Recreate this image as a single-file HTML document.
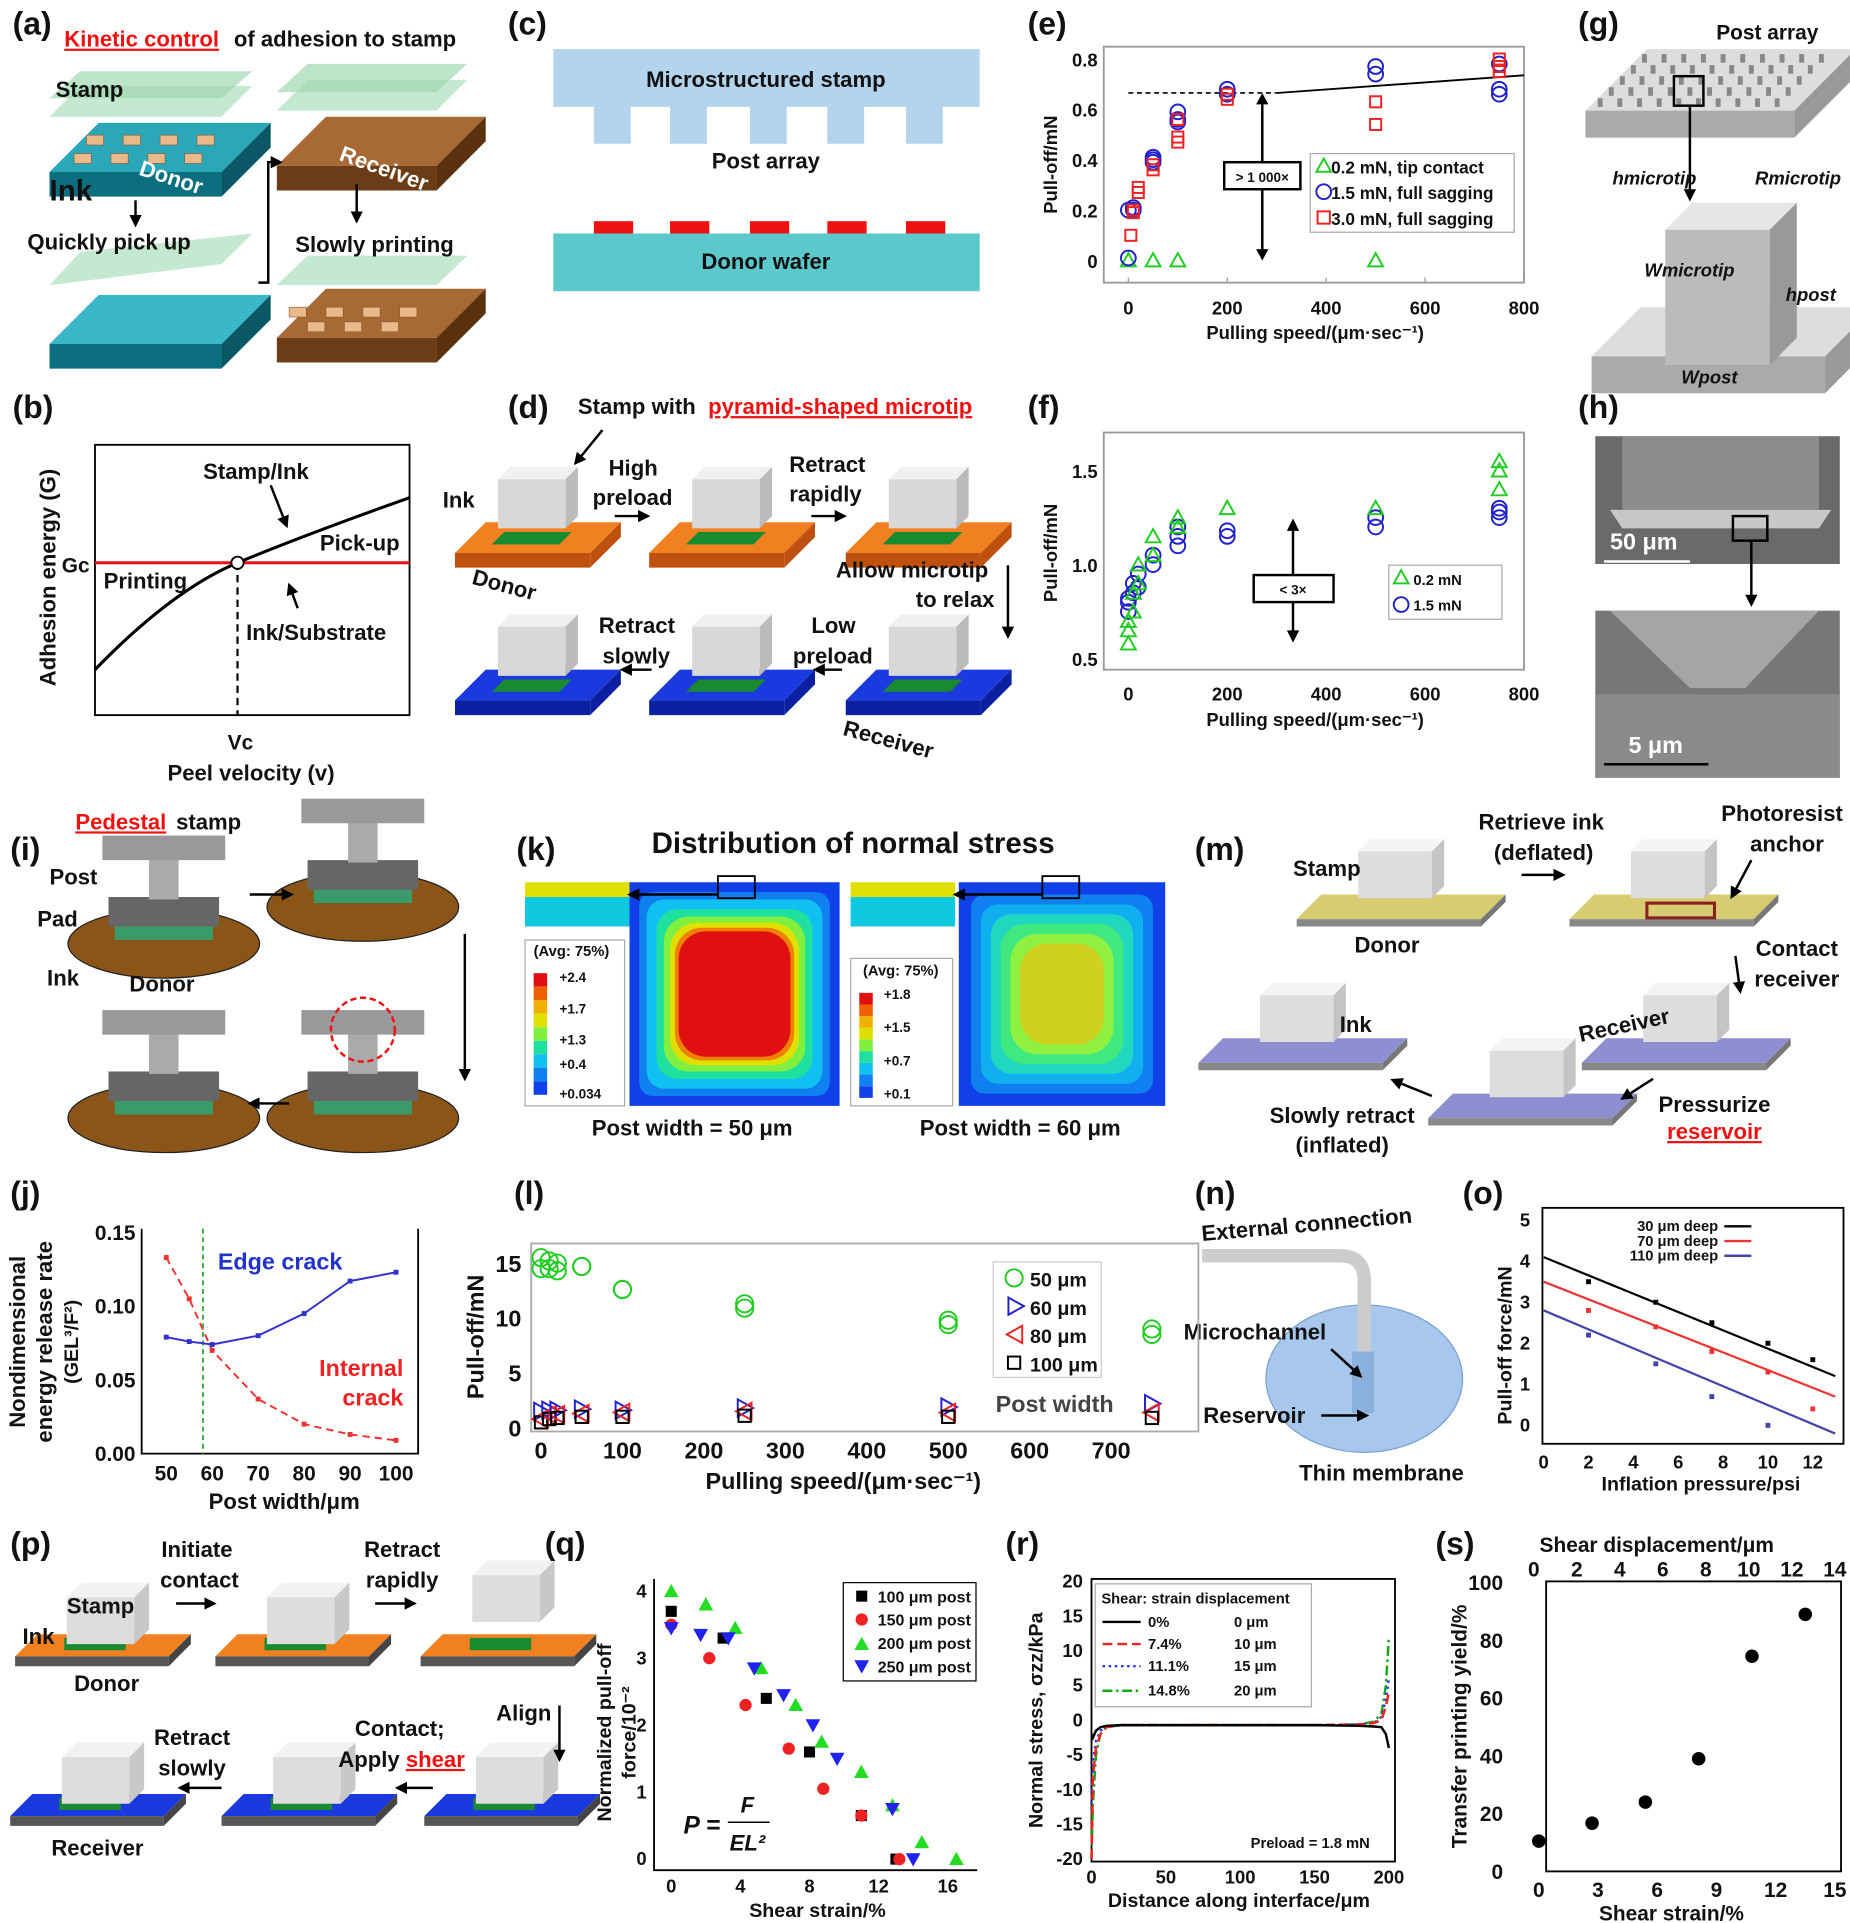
<!DOCTYPE html>
<html><head><meta charset="utf-8">
<style>
html,body{margin:0;padding:0;background:#fff}
svg{display:block}
text{font-family:"Liberation Sans",Arial,sans-serif;font-weight:bold}
</style></head>
<body>
<svg id="fig" xmlns="http://www.w3.org/2000/svg" width="1850" height="1923" viewBox="0 0 1505 1565" fill="#111">
<defs><marker id="ah" viewBox="0 0 10 10" refX="8" refY="5" markerWidth="5" markerHeight="5" orient="auto"><path d="M0,0 L10,5 L0,10 z" fill="#000"/></marker></defs>
<rect width="1505" height="1565" fill="#fff"/>
<g id="illus"></g>
<g id="charts"></g>
<g id="labels" font-size="26">
<text x="10" y="28">(a)</text>
<text x="413" y="28">(c)</text>
<text x="836" y="28">(e)</text>
<text x="1284" y="28">(g)</text>
<text x="10" y="340">(b)</text>
<text x="413" y="340">(d)</text>
<text x="836" y="340">(f)</text>
<text x="1284" y="340">(h)</text>
<text x="8" y="700">(i)</text>
<text x="420" y="700">(k)</text>
<text x="972" y="700">(m)</text>
<text x="8" y="980">(j)</text>
<text x="418" y="980">(l)</text>
<text x="972" y="980">(n)</text>
<text x="1190" y="980">(o)</text>
<text x="8" y="1265">(p)</text>
<text x="443" y="1265">(q)</text>
<text x="818" y="1265">(r)</text>
<text x="1168" y="1265">(s)</text>
</g>
</svg>
<script>
// ===== chart data =====
const eSpeedsBlue=[0,0,10,10,50,50,50,100,100,100,200,200,500,500,750,750,750];
const ePullBlue=[0.01,0.2,0.21,0.2,0.41,0.4,0.39,0.59,0.56,0.55,0.68,0.66,0.77,0.74,0.78,0.68,0.66];
const eSpeedsRed=[5,10,10,20,20,50,50,100,100,100,200,200,500,500,750,750,750];
const ePullRed=[0.1,0.2,0.19,0.29,0.27,0.38,0.36,0.56,0.49,0.47,0.66,0.64,0.63,0.54,0.8,0.77,0.75];
const eSpeedsGreen=[0,50,100,500];
const ePullGreen=[0,0,0,0];
const eXTicks=[0,200,400,600,800];
const eYTicks=[0,0.2,0.4,0.6,0.8];

const fSpeedsBlue=[0,0,0,10,10,20,20,50,50,100,100,100,200,200,500,500,750,750,750];
const fPullBlue=[0.75,0.8,0.82,0.85,0.9,0.88,0.95,1.0,1.05,1.1,1.15,1.2,1.15,1.18,1.2,1.25,1.25,1.3,1.28];
const fSpeedsGreen=[0,0,0,10,10,20,20,50,50,100,100,200,500,750,750,750];
const fPullGreen=[0.58,0.65,0.7,0.75,0.85,0.9,1.0,1.05,1.15,1.2,1.25,1.3,1.3,1.4,1.5,1.55];
const fXTicks=[0,200,400,600,800];
const fYTicks=[0.5,1.0,1.5];

const jWidths=[50,55,60,70,80,90,100];
const jEdge=[0.079,0.076,0.074,0.08,0.095,0.117,0.123];
const jInternal=[0.133,0.105,0.07,0.037,0.02,0.013,0.009];
const jXTicks=[50,60,70,80,90,100];
const jYTicks=[0,0.05,0.1,0.15];

const lSpeeds=[0,10,20,50,100,250,500,750];
const lGreen1=[15.5,15.2,15,14.7,12.6,11.3,9.8,9];
const lGreen2=[14.5,14.5,14.3,14.7,12.6,10.9,9.4,8.5];
const l60=[1.5,1.6,1.6,1.7,1.6,1.8,1.9,2.2];
const l80=[0.8,1.2,1.2,1.3,1.4,1.5,1.4,1.4];
const l100=[0.5,0.8,0.9,1.0,1.0,1.1,1.0,0.9];
const lXTicks=[0,100,200,300,400,500,600,700];
const lYTicks=[0,5,10,15];

const oPress=[2,5,7.5,10,12];
const o30=[3.5,3.0,2.5,2.0,1.6];
const o70=[2.8,2.4,1.8,1.3,0.4];
const o110=[2.2,1.5,0.7,0.0,null];
const oFit30=[4.1,1.2];
const oFit70=[3.5,0.7];
const oFit110=[2.8,-0.2];
const oFitX=[0,13];
const oXTicks=[0,2,4,6,8,10,12];
const oYTicks=[0,1,2,3,4,5];

const q100x=[0,3,5.5,8,11,13];
const q100y=[3.7,3.3,2.4,1.6,0.65,0];
const q150x=[0,2.2,4.3,6.8,8.8,11,13.2];
const q150y=[3.5,3.0,2.3,1.65,1.05,0.65,0];
const q200x=[0,2,3.7,5.2,7.2,8.7,11,12.8,14.5,16.5];
const q200y=[4.0,3.8,3.45,2.85,2.3,1.75,1.3,0.8,0.25,0];
const q250x=[0,1.7,3.3,4.8,6.5,8.2,9.6,12.8,14];
const q250y=[3.45,3.35,3.3,2.85,2.45,2.0,1.5,0.75,0];
const qXTicks=[0,4,8,12,16];
const qYTicks=[0,1,2,3,4];

const rDist=[0,1,3,6,10,20,50,100,150,180,190,195,198,200];
const rS0=[-2,-2.5,-1.5,-1,-0.8,-0.7,-0.7,-0.7,-0.7,-0.8,-0.9,-1,-2,-4];
const rS74=[-20,-8,-4,-2,-1,-0.7,-0.7,-0.7,-0.7,-0.6,-0.4,0,2,4];
const rS111=[-12,-6,-3,-1.5,-1,-0.7,-0.7,-0.7,-0.7,-0.6,-0.4,0.5,3,6];
const rS148=[-20,-12,-5,-2,-1,-0.7,-0.7,-0.7,-0.7,-0.6,-0.2,1,5,12];
const rXTicks=[0,50,100,150,200];
const rYTicks=[-20,-15,-10,-5,0,5,10,15,20];

const sStrain=[0,2.7,5.4,8.1,10.8,13.5];
const sYield=[10.5,16.7,24,39,74.5,89];
const sXTicks=[0,3,6,9,12,15];
const sTopTicks=[0,2,4,6,8,10,12,14];
const sYTicks=[0,20,40,60,80,100];

// ===== helpers =====
const NS='http://www.w3.org/2000/svg';
function mk(tag,at,parent){const e=document.createElementNS(NS,tag);for(const k in at)e.setAttribute(k,at[k]);parent.appendChild(e);return e;}
function tx(s,x,y,sz,parent,extra){const e=mk('text',Object.assign({x:x,y:y,'font-size':sz},extra||{}),parent);e.textContent=s;return e;}
const C=document.getElementById('charts');
const I=document.getElementById('illus');
function lin(d0,d1,p0,p1){return v=>p0+(v-d0)*(p1-p0)/(d1-d0);}
function marker(kind,x,y,col,r,parent,name){
  let e;
  if(kind==='o')e=mk('circle',{cx:x,cy:y,r:r,fill:'none',stroke:col,'stroke-width':1.6},parent);
  else if(kind==='O')e=mk('circle',{cx:x,cy:y,r:r,fill:col},parent);
  else if(kind==='s')e=mk('rect',{x:x-r,y:y-r,width:2*r,height:2*r,fill:'none',stroke:col,'stroke-width':1.6},parent);
  else if(kind==='S')e=mk('rect',{x:x-r,y:y-r,width:2*r,height:2*r,fill:col},parent);
  else if(kind==='t')e=mk('polygon',{points:`${x},${y-r} ${x-r},${y+r*0.8} ${x+r},${y+r*0.8}`,fill:'none',stroke:col,'stroke-width':1.6},parent);
  else if(kind==='T')e=mk('polygon',{points:`${x},${y-r} ${x-r},${y+r*0.8} ${x+r},${y+r*0.8}`,fill:col},parent);
  else if(kind==='V')e=mk('polygon',{points:`${x},${y+r} ${x-r},${y-r*0.8} ${x+r},${y-r*0.8}`,fill:col},parent);
  else if(kind==='r')e=mk('polygon',{points:`${x+r},${y} ${x-r*0.8},${y-r} ${x-r*0.8},${y+r}`,fill:'none',stroke:col,'stroke-width':1.6},parent);
  else if(kind==='l')e=mk('polygon',{points:`${x-r},${y} ${x+r*0.8},${y-r} ${x+r*0.8},${y+r}`,fill:'none',stroke:col,'stroke-width':1.6},parent);
  
  
  return e;
}
function group(name,parent){const g=mk('g',{},parent||C);return g;}
function frame(g,x0,y0,x1,y1,col){mk('rect',{x:x0,y:y0,width:x1-x0,height:y1-y0,fill:'none',stroke:col||'#999','stroke-width':1.5},g);}
function polyl(g,xs,ys,X,Y,col,w,dash,name){
  const pts=[];xs.forEach((v,i)=>{if(ys[i]!==null)pts.push(X(v)+','+Y(ys[i]));});
  const p=mk('polyline',{points:pts.join(' '),fill:'none',stroke:col,'stroke-width':w,'stroke-dasharray':dash||'none'},g);
  
  
  return p;
}
function arrow(g,pts){const a=mk('polyline',{points:pts,fill:'none',stroke:'#000','stroke-width':2,'marker-end':'url(#ah)'},g);
  
  }

// ===== chart e =====
(function(){
 const g=group('chart-e');
 const X=lin(0,800,918,1240),Y=lin(0,0.8,212,48);
 frame(g,898,38,1240,230);
 eXTicks.forEach(v=>{tx(v,X(v),256,15,g,{'text-anchor':'middle'});mk('line',{x1:X(v),x2:X(v),y1:230,y2:226,stroke:'#999'},g);});
 eYTicks.forEach(v=>{tx(v,893,Y(v)+6,15,g,{'text-anchor':'end'});});
 tx('Pulling speed/(μm·sec⁻¹)',1070,276,15,g,{'text-anchor':'middle'});
 tx('Pull-off/mN',860,134,15,g,{'text-anchor':'middle',transform:'rotate(-90 860 134)'});
 mk('line',{x1:X(0),x2:X(300),y1:Y(0.665),y2:Y(0.665),stroke:'#000','stroke-dasharray':'4 3','stroke-width':1.3},g);
 mk('line',{x1:X(300),x2:X(800),y1:Y(0.665),y2:Y(0.735),stroke:'#000','stroke-width':1.5},g);
 mk('line',{x1:1027,x2:1027,y1:Y(0.655),y2:Y(0.02),stroke:'#000','stroke-width':2},g);
 mk('polygon',{points:`1027,${Y(0.665)} 1022,${Y(0.62)} 1032,${Y(0.62)}`,fill:'#000'},g);
 mk('polygon',{points:`1027,${Y(0)} 1022,${Y(0.045)} 1032,${Y(0.045)}`,fill:'#000'},g);
 mk('rect',{x:996,y:132,width:62,height:22,fill:'#fff',stroke:'#000','stroke-width':2},g);
 tx('> 1 000×',1027,148,11,g,{'text-anchor':'middle'});
 eSpeedsGreen.forEach((v,i)=>marker('t',X(v),Y(ePullGreen[i]),'#2c2',6,g,'e-point-green'));
 eSpeedsBlue.forEach((v,i)=>marker('o',X(v),Y(ePullBlue[i]),'#22c',6,g,'e-point-blue'));
 eSpeedsRed.forEach((v,i)=>marker('s',X(v),Y(ePullRed[i]),'#e22',4.5,g,'e-point-red'));
 const lg=group('e-legend',g);
 mk('rect',{x:1066,y:125,width:166,height:64,fill:'#fff',stroke:'#aaa'},lg);
 marker('t',1077,135,'#2c2',6,lg,'legend-green');tx('0.2 mN, tip contact',1083,141,14,lg);
 marker('o',1077,156,'#22c',6,lg,'legend-blue');tx('1.5 mN, full sagging',1083,162,14,lg);
 marker('s',1077,177,'#e22',5,lg,'legend-red');tx('3.0 mN, full sagging',1083,183,14,lg);
})();

// ===== chart f =====
(function(){
 const g=group('chart-f');
 const X=lin(0,800,918,1240),Y=lin(0.5,1.5,536,383);
 frame(g,898,352,1240,545);
 fXTicks.forEach(v=>tx(v,X(v),570,15,g,{'text-anchor':'middle'}));
 fYTicks.forEach(v=>tx(v.toFixed(1),893,Y(v)+6,15,g,{'text-anchor':'end'}));
 tx('Pulling speed/(μm·sec⁻¹)',1070,591,15,g,{'text-anchor':'middle'});
 tx('Pull-off/mN',860,450,15,g,{'text-anchor':'middle',transform:'rotate(-90 860 450)'});
 mk('line',{x1:1052,x2:1052,y1:430,y2:515,stroke:'#000','stroke-width':2},g);
 mk('polygon',{points:'1052,422 1047,432 1057,432',fill:'#000'},g);
 mk('polygon',{points:'1052,523 1047,513 1057,513',fill:'#000'},g);
 mk('rect',{x:1020,y:468,width:65,height:22,fill:'#fff',stroke:'#000','stroke-width':2},g);
 tx('< 3×',1052,484,11,g,{'text-anchor':'middle'});
 fSpeedsBlue.forEach((v,i)=>marker('o',X(v),Y(fPullBlue[i]),'#22c',6,g,'f-point-blue'));
 fSpeedsGreen.forEach((v,i)=>marker('t',X(v),Y(fPullGreen[i]),'#2c2',6,g,'f-point-green'));
 const lg=group('f-legend',g);
 mk('rect',{x:1130,y:460,width:92,height:44,fill:'#fff',stroke:'#aaa'},lg);
 marker('t',1140,470,'#2c2',6,lg,'legend-green');tx('0.2 mN',1150,476,12,lg);
 marker('o',1140,492,'#22c',6,lg,'legend-blue');tx('1.5 mN',1150,497,12,lg);
})();

// ===== chart j =====
(function(){
 const g=group('chart-j');
 const X=lin(50,100,135,322),Y=lin(0,0.15,1183,1003);
 mk('path',{d:'M115,1000 V1183 H340 V1000',fill:'none',stroke:'#000','stroke-width':1.5},g);
 jXTicks.forEach(v=>tx(v,X(v),1205,17,g,{'text-anchor':'middle'}));
 jYTicks.forEach(v=>tx(v.toFixed(2),110,Y(v)+6,17,g,{'text-anchor':'end'}));
 tx('Post width/μm',231,1228,18,g,{'text-anchor':'middle'});
 tx('Nondimensional',20,1092,18,g,{'text-anchor':'middle',transform:'rotate(-90 20 1092)'});
 tx('energy release rate',42,1092,18,g,{'text-anchor':'middle',transform:'rotate(-90 42 1092)'});
 tx('(GEL³/F²)',63,1092,16,g,{'text-anchor':'middle',transform:'rotate(-90 63 1092)'});
 mk('line',{x1:X(58),x2:X(58),y1:1000,y2:1183,stroke:'#3a3','stroke-dasharray':'4 3','stroke-width':1.5},g);
 polyl(g,jWidths,jEdge,X,Y,'#33c',1.6,'none','j-edge-crack-line');
 polyl(g,jWidths,jInternal,X,Y,'#e33',1.6,'6 4','j-internal-crack-line');
 jWidths.forEach((v,i)=>{marker('S',X(v),Y(jEdge[i]),'#33c',2,g,'j-edge-point');marker('S',X(v),Y(jInternal[i]),'#e33',2,g,'j-internal-point');});
 tx('Edge crack',177,1033,19,g,{fill:'#23c'});
 tx('Internal',328,1120,19,g,{fill:'#e22','text-anchor':'end'});
 tx('crack',328,1144,19,g,{fill:'#e22','text-anchor':'end'});
})();

// ===== chart l =====
(function(){
 const g=group('chart-l');
 const X=lin(0,700,440,904),Y=lin(0,15,1162,1028);
 frame(g,432,1012,975,1165,'#aaa');
 lXTicks.forEach(v=>tx(v,X(v),1187,19,g,{'text-anchor':'middle'}));
 lYTicks.forEach(v=>tx(v,424,Y(v)+7,19,g,{'text-anchor':'end'}));
 tx('Pulling speed/(μm·sec⁻¹)',686,1212,19,g,{'text-anchor':'middle'});
 tx('Pull-off/mN',393,1088,19,g,{'text-anchor':'middle',transform:'rotate(-90 393 1088)'});
 lSpeeds.forEach((v,i)=>{
  marker('o',X(v),Y(lGreen1[i]),'#2c2',7,g,'l-point-50');
  marker('o',X(v),Y(lGreen2[i]),'#2c2',7,g,'l-point-50');
  marker('r',X(v),Y(l60[i]),'#22c',7,g,'l-point-60');
  marker('l',X(v),Y(l80[i]),'#e22',7,g,'l-point-80');
  marker('s',X(v),Y(l100[i]),'#000',5,g,'l-point-100');
 });
 const lg=group('l-legend',g);
 mk('rect',{x:808,y:1027,width:88,height:94,fill:'#fff',stroke:'#ccc'},lg);
 marker('o',825,1040,'#2c2',7,lg,'legend-50');tx('50 μm',838,1047,16,lg);
 marker('r',826,1063,'#22c',7,lg,'legend-60');tx('60 μm',838,1070,16,lg);
 marker('l',826,1086,'#e22',7,lg,'legend-80');tx('80 μm',838,1093,16,lg);
 marker('s',825,1109,'#000',5,lg,'legend-100');tx('100 μm',838,1116,16,lg);
 tx('Post width',858,1149,19,g,{'text-anchor':'middle',fill:'#444'});
})();

// ===== chart o =====
(function(){
 const g=group('chart-o');
 const X=lin(0,12,1256,1475),Y=lin(0,5,1160,993);
 frame(g,1255,983,1500,1175,'#000');
 oXTicks.forEach(v=>tx(v,X(v),1195,15,g,{'text-anchor':'middle'}));
 oYTicks.forEach(v=>tx(v,1245,Y(v)+5,15,g,{'text-anchor':'end'}));
 tx('Inflation pressure/psi',1384,1213,16,g,{'text-anchor':'middle'});
 tx('Pull-off force/mN',1230,1095,16,g,{'text-anchor':'middle',transform:'rotate(-90 1230 1095)'});
 polyl(g,oFitX,oFit30,X,Y,'#000',1.8,'none','o-fit-30');
 polyl(g,oFitX,oFit70,X,Y,'#e33',1.8,'none','o-fit-70');
 polyl(g,oFitX,oFit110,X,Y,'#44a',1.8,'none','o-fit-110');
 oPress.forEach((v,i)=>{
  marker('S',X(v),Y(o30[i]),'#000',2,g,'o-point-30');
  marker('S',X(v),Y(o70[i]),'#e33',2,g,'o-point-70');
  if(o110[i]!==null)marker('S',X(v),Y(o110[i]),'#44a',2,g,'o-point-110');
 });
 const lg=group('o-legend',g);
 [['30 μm deep','#000',998],['70 μm deep','#e33',1010],['110 μm deep','#44a',1022]].forEach(a=>{tx(a[0],1398,a[2]+4,12,lg,{'text-anchor':'end'});mk('line',{x1:1403,x2:1425,y1:a[2],y2:a[2],stroke:a[1],'stroke-width':2},lg);});
})();

// ===== chart q =====
(function(){
 const g=group('chart-q');
 const X=lin(0,16,546,771),Y=lin(0,4,1513,1295);
 mk('path',{d:'M532,1285 V1522 H795',fill:'none',stroke:'#000','stroke-width':1.5},g);
 qXTicks.forEach(v=>tx(v,X(v),1540,15,g,{'text-anchor':'middle'}));
 qYTicks.forEach(v=>tx(v,526,Y(v)+5,15,g,{'text-anchor':'end'}));
 tx('Shear strain/%',665,1560,16,g,{'text-anchor':'middle'});
 tx('Normalized pull-off',497,1410,16,g,{'text-anchor':'middle',transform:'rotate(-90 497 1410)'});
 tx('force/10⁻²',517,1410,16,g,{'text-anchor':'middle',transform:'rotate(-90 517 1410)'});
 q100x.forEach((v,i)=>marker('S',X(v),Y(q100y[i]),'#000',4.5,g,'q-point-100'));
 q150x.forEach((v,i)=>marker('O',X(v),Y(q150y[i]),'#e22',5,g,'q-point-150'));
 q200x.forEach((v,i)=>marker('T',X(v),Y(q200y[i]),'#2d2',6,g,'q-point-200'));
 q250x.forEach((v,i)=>marker('V',X(v),Y(q250y[i]),'#22e',6,g,'q-point-250'));
 const lg=group('q-legend',g);
 mk('rect',{x:686,y:1288,width:108,height:80,fill:'#fff',stroke:'#000'},lg);
 marker('S',701,1299,'#000',4.5,lg,'legend-100');tx('100 μm post',714,1304,13,lg);
 marker('O',701,1318,'#e22',5,lg,'legend-150');tx('150 μm post',714,1323,13,lg);
 marker('T',701,1338,'#2d2',6,lg,'legend-200');tx('200 μm post',714,1342,13,lg);
 marker('V',701,1356,'#22e',6,lg,'legend-250');tx('250 μm post',714,1361,13,lg);
 tx('P =',556,1492,20,g,{'font-style':'italic'});
 tx('F',608,1475,18,g,{'font-style':'italic','text-anchor':'middle'});
 mk('line',{x1:592,x2:626,y1:1483,y2:1483,stroke:'#000','stroke-width':1.3},g);
 tx('EL²',608,1506,18,g,{'font-style':'italic','text-anchor':'middle'});
})();

// ===== chart r =====
(function(){
 const g=group('chart-r');
 const X=lin(0,200,888,1130),Y=lin(-20,20,1513,1287);
 frame(g,888,1285,1135,1515,'#000');
 rXTicks.forEach(v=>tx(v,X(v),1533,15,g,{'text-anchor':'middle'}));
 rYTicks.forEach(v=>tx(v,881,Y(v)+5,15,g,{'text-anchor':'end'}));
 tx('Distance along interface/μm',1008,1552,16,g,{'text-anchor':'middle'});
 tx('Normal stress, σzz/kPa',848,1400,16,g,{'text-anchor':'middle',transform:'rotate(-90 848 1400)'});
 polyl(g,rDist,rS148,X,Y,'#1a1',2,'8 3 2 3','r-line-14.8');
 polyl(g,rDist,rS111,X,Y,'#33e',2,'2 3','r-line-11.1');
 polyl(g,rDist,rS74,X,Y,'#e22',2,'8 4','r-line-7.4');
 polyl(g,rDist,rS0,X,Y,'#000',2,'none','r-line-0');
 const lg=group('r-legend',g);
 mk('rect',{x:891,y:1289,width:176,height:100,fill:'#fff',stroke:'#aaa'},lg);
 tx('Shear: strain  displacement',896,1305,12,lg);
 [['0%','0 μm','#000','none',1324],['7.4%','10 μm','#e22','8 4',1342],['11.1%','15 μm','#33e','2 3',1360],['14.8%','20 μm','#1a1','8 3 2 3',1380]].forEach(a=>{
  mk('line',{x1:897,x2:928,y1:a[4]-4,y2:a[4]-4,stroke:a[2],'stroke-width':2,'stroke-dasharray':a[3]},lg);
  tx(a[0],934,a[4],12,lg);tx(a[1],1004,a[4],12,lg);
 });
 tx('Preload = 1.8 mN',1066,1504,12,g,{'text-anchor':'middle'});
})();

// ===== chart s =====
(function(){
 const g=group('chart-s');
 const X=lin(0,15,1252,1493),Xt=lin(0,14,1248,1493),Y=lin(0,100,1523,1288);
 frame(g,1258,1287,1498,1523,'#000');
 sXTicks.forEach(v=>tx(v,X(v),1544,17,g,{'text-anchor':'middle'}));
 sTopTicks.forEach(v=>tx(v,Xt(v),1283,17,g,{'text-anchor':'middle'}));
 sYTicks.forEach(v=>tx(v,1223,Y(v)+6,17,g,{'text-anchor':'end'}));
 tx('Shear strain/%',1360,1563,17,g,{'text-anchor':'middle'});
 tx('Shear displacement/μm',1348,1263,17,g,{'text-anchor':'middle'});
 tx('Transfer printing yield/%',1193,1405,17,g,{'text-anchor':'middle',transform:'rotate(-90 1193 1405)'});
 sStrain.forEach((v,i)=>marker('O',X(v),Y(sYield[i]),'#000',5.5,g,'s-point'));
})();

// ===== illustrations =====
function slab(x,y,w,d,h,top,front,side,parent,name){
 const g=group(name,parent);
 mk('polygon',{points:`${x},${y+d} ${x+w},${y+d} ${x+w+d},${y} ${x+d},${y}`,fill:top},g);
 mk('polygon',{points:`${x},${y+d} ${x+w},${y+d} ${x+w},${y+d+h} ${x},${y+d+h}`,fill:front},g);
 mk('polygon',{points:`${x+w},${y+d} ${x+w+d},${y} ${x+w+d},${y+h} ${x+w},${y+d+h}`,fill:side},g);
 return g;
}
function cube(x,y,w,d,h,parent,name,col){col=col||['#eee','#ccc','#aaa'];return slab(x,y,w,d,h,col[0],col[1],col[2],parent,name);}
function T(s,x,y,sz,extra,parent){return tx(s,x,y,sz,parent||I,extra);}

// (a)
(function(){
 const g=group('panel-a',I);
 slab(40,100,140,40,20,'#2aa7b8','#0c6f80','#0a5766',g,'donor-slab-top');
 slab(40,240,140,40,20,'#3ab7c8','#0c6f80','#0a5766',g,'donor-slab-bottom');
 slab(225,95,130,40,20,'#a86a35','#6b3c15','#5a3210',g,'receiver-slab-top');
 slab(225,235,130,40,20,'#a86a35','#6b3c15','#5a3210',g,'receiver-slab-bottom');
 [[70,110],[100,110],[130,110],[160,110],[60,125],[90,125],[120,125],[150,125],[235,250],[265,250],[295,250],[325,250],[250,262],[280,262],[310,262]].forEach(p=>mk('rect',{x:p[0],y:p[1],width:14,height:8,fill:'#e9b98a',stroke:'#8a5a30','stroke-width':0.5},g));
 mk('polygon',{points:'40,95 180,95 205,70 65,70',fill:'#9fd8b0',opacity:0.6},g);
 mk('polygon',{points:'40,80 180,80 205,58 65,58',fill:'#9fd8b0',opacity:0.7},g);
 mk('polygon',{points:'225,90 355,90 380,65 250,65',fill:'#9fd8b0',opacity:0.6},g);
 mk('polygon',{points:'225,75 355,75 380,52 250,52',fill:'#9fd8b0',opacity:0.7},g);
 mk('polygon',{points:'40,232 180,215 205,190 65,205',fill:'#9fd8b0',opacity:0.6},g);
 mk('polygon',{points:'225,232 355,232 380,208 250,208',fill:'#9fd8b0',opacity:0.6},g);
 T('Kinetic control',52,38,18,{fill:'#e11','text-decoration':'underline'},g);
 T('of adhesion to stamp',190,38,18,{},g);
 T('Stamp',45,79,18,{},g);
 T('Ink',40,163,24,{},g);
 T('Donor',112,142,18,{fill:'#fff',transform:'rotate(18 112 142)'},g);
 T('Receiver',275,130,18,{fill:'#fff',transform:'rotate(20 275 130)'},g);
 T('Quickly pick up',22,203,18,{},g);
 T('Slowly printing',240,205,18,{},g);
 arrow(g,'110,163 110,183');arrow(g,'210,230 218,230 218,132 228,132');arrow(g,'290,150 290,180');
})();

// (b)
(function(){
 const g=group('panel-b',I);
 mk('rect',{x:77,y:362,width:256,height:220,fill:'none',stroke:'#000','stroke-width':1.5},g);
 mk('line',{x1:77,x2:333,y1:458,y2:458,stroke:'#e11','stroke-width':2.5},g);
 mk('path',{d:'M77,545 Q140,480 193,458 T333,405',fill:'none',stroke:'#000','stroke-width':2.5},g);
 mk('line',{x1:193,x2:193,y1:458,y2:582,stroke:'#000','stroke-width':1.8,'stroke-dasharray':'6 4'},g);
 mk('circle',{cx:193,cy:458,r:5,fill:'#fff',stroke:'#000','stroke-width':1.5},g);
 T('Stamp/Ink',165,390,18,{},g);
 T('Pick-up',260,448,18,{},g);
 T('Printing',84,479,18,{},g);
 T('Ink/Substrate',200,521,18,{},g);
 T('Gc',50,466,17,{},g);
 T('Vc',185,610,17,{},g);
 T('Peel velocity (v)',204,635,18,{'text-anchor':'middle'},g);
 T('Adhesion energy (G)',45,470,18,{'text-anchor':'middle',transform:'rotate(-90 45 470)'},g);
 arrow(g,'220,395 233,428');arrow(g,'242,495 235,476');
})();

// (c)
(function(){
 const g=group('panel-c',I);
 mk('rect',{x:450,y:40,width:347,height:47,fill:'#b3d4ec'},g);
 [483,545,610,673,737].forEach(x=>mk('rect',{x:x,y:86,width:30,height:31,fill:'#b3d4ec'},g));
 [483,545,610,673,737].forEach(x=>mk('rect',{x:x,y:180,width:32,height:11,fill:'#e11'},g));
 mk('rect',{x:450,y:190,width:347,height:47,fill:'#5bc8cc'},g);
 T('Microstructured stamp',623,71,18,{'text-anchor':'middle'},g);
 T('Post array',623,137,18,{'text-anchor':'middle'},g);
 T('Donor wafer',623,219,18,{'text-anchor':'middle'},g);
})();

// (d)
(function(){
 const g=group('panel-d',I);
 [[370,425,'#f08020','#c05010'],[528,425,'#f08020','#c05010'],[688,425,'#f08020','#c05010'],[370,545,'#1a3ae0','#0a20a0'],[528,545,'#1a3ae0','#0a20a0'],[688,545,'#1a3ae0','#0a20a0']].forEach((p,i)=>{
  slab(p[0],p[1],110,25,12,p[2],p[3],p[3],g,'plate-'+i);
  mk('polygon',{points:`${p[0]+30},${p[1]+18} ${p[0]+85},${p[1]+18} ${p[0]+95},${p[1]+8} ${p[0]+40},${p[1]+8}`,fill:'#1a8a30'},g);
  cube(p[0]+35,p[1]-45,55,10,40,g,'stamp-cube-'+i,['#f0f0f0','#d8d8d8','#bbb']);
 });
 T('Stamp with',470,337,18,{},g);
 T('pyramid-shaped microtip',576,337,18,{fill:'#e11','text-decoration':'underline'},g);
 T('Ink',360,413,18,{},g);
 T('High',495,387,18,{},g);T('preload',482,411,18,{},g);
 T('Retract',642,384,18,{},g);T('rapidly',642,408,18,{},g);
 T('Donor',383,475,18,{transform:'rotate(15 383 475)'},g);
 T('Allow microtip',680,470,18,{},g);T('to relax',745,494,18,{},g);
 T('Retract',487,515,18,{},g);T('slowly',490,540,18,{},g);
 T('Low',660,515,18,{},g);T('preload',645,540,18,{},g);
 T('Receiver',685,598,18,{transform:'rotate(15 685 598)'},g);
 arrow(g,'500,420 527,420');arrow(g,'660,420 687,420');arrow(g,'820,460 820,518');arrow(g,'530,545 506,545');arrow(g,'685,545 663,545');arrow(g,'490,350 468,377');
})();

// (g)
(function(){
 const g=group('panel-g',I);
 slab(1290,40,170,50,22,'#ddd','#aaa','#999',g,'post-array');
 for(let i=0;i<10;i++)for(let j=0;j<5;j++)mk('rect',{x:1300+i*16+j*9,y:80-j*9,width:4,height:7,fill:'#888'},g);
 mk('rect',{x:1362,y:62,width:24,height:24,fill:'none',stroke:'#000','stroke-width':2},g);
 arrow(g,'1375,86 1375,162');
 slab(1295,250,190,40,30,'#ddd','#aaa','#999',g,'base');
 cube(1355,165,85,22,110,g,'post-block',['#e6e6e6','#bbb','#999']);
 T('Post array',1438,32,17,{'text-anchor':'middle'},g);
 T('hmicrotip',1312,150,15,{'font-style':'italic'},g);
 T('Rmicrotip',1428,150,15,{'font-style':'italic'},g);
 T('Wmicrotip',1338,225,15,{'font-style':'italic'},g);
 T('hpost',1453,245,15,{'font-style':'italic'},g);
 T('Wpost',1368,312,15,{'font-style':'italic'},g);
})();

// (h)
(function(){
 const g=group('panel-h',I);
 mk('rect',{x:1298,y:355,width:199,height:104,fill:'#6a6a6a'},g);
 mk('rect',{x:1320,y:355,width:160,height:60,fill:'#8c8c8c'},g);
 mk('polygon',{points:'1310,415 1490,415 1480,430 1320,430',fill:'#c8c8c8'},g);
 mk('rect',{x:1410,y:420,width:28,height:20,fill:'none',stroke:'#000','stroke-width':2},g);
 arrow(g,'1425,440 1425,492');
 mk('rect',{x:1298,y:497,width:199,height:136,fill:'#777'},g);
 mk('polygon',{points:'1310,497 1480,497 1420,560 1375,560',fill:'#a5a5a5'},g);
 mk('rect',{x:1298,y:565,width:199,height:68,fill:'#8a8a8a'},g);
 T('50 μm',1310,447,19,{fill:'#fff'},g);
 T('5 μm',1325,613,19,{fill:'#fff'},g);
 mk('line',{x1:1305,x2:1375,y1:457,y2:457,stroke:'#fff','stroke-width':2},g);
 mk('line',{x1:1305,x2:1390,y1:622,y2:622,stroke:'#000','stroke-width':2},g);
})();

// (i)
(function(){
 const g=group('panel-i',I);
 [[133,768],[295,738],[133,910],[295,910]].forEach((p,i)=>{
  mk('ellipse',{cx:p[0],cy:p[1],rx:78,ry:28,fill:'#8a5516',stroke:'#222'},g);
  mk('rect',{x:p[0]-40,y:p[1]-15,width:80,height:12,fill:'#3a9a6a'},g);
  mk('rect',{x:p[0]-45,y:p[1]-38,width:90,height:24,fill:'#666'},g);
  mk('rect',{x:p[0]-12,y:p[1]-70,width:24,height:34,fill:'#aaa'},g);
  mk('rect',{x:p[0]-50,y:p[1]-88,width:100,height:20,fill:'#999'},g);
 });
 mk('ellipse',{cx:295,cy:838,rx:26,ry:26,fill:'none',stroke:'#e11','stroke-width':2,'stroke-dasharray':'5 3'},g);
 T('Pedestal',61,675,18,{fill:'#e11','text-decoration':'underline'},g);
 T('stamp',143,675,18,{},g);
 T('Post',40,720,18,{},g);
 T('Pad',30,754,18,{},g);
 T('Ink',38,802,18,{},g);
 T('Donor',105,807,18,{},g);
 arrow(g,'203,728 237,728');arrow(g,'378,760 378,878');arrow(g,'235,898 203,898');
})();

// (k)
(function(){
 const g=group('panel-k',I);
 T('Distribution of normal stress',694,694,24,{'text-anchor':'middle'},g);
 function contour(x,y,w,h,cols,ms){cols.forEach((c,i)=>{const m=ms[i];mk('rect',{x:x+m,y:y+m,width:w-2*m,height:h-2*m,rx:i?Math.min(22,8+i*3):0,fill:c},g);});}
 contour(512,718,171,182,['#1040e8','#1080f0','#10c0f0','#20e0a0','#80f040','#e0e000','#f08000','#e01010'],[0,8,14,22,28,33,37,40]);
 contour(780,718,168,182,['#1040e8','#1080f0','#10b0f0','#20d8c0','#40e880','#90f040','#d0d020'],[0,10,18,26,34,42,50]);
 [[427,718],[692,718]].forEach(p=>{mk('rect',{x:p[0],y:p[1],width:85,height:12,fill:'#e0e000'},g);mk('rect',{x:p[0],y:p[1]+12,width:85,height:24,fill:'#10c8e0'},g);});
 mk('rect',{x:584,y:713,width:30,height:18,fill:'none',stroke:'#000','stroke-width':1.5},g);
 mk('rect',{x:848,y:713,width:30,height:18,fill:'none',stroke:'#000','stroke-width':1.5},g);
 arrow(g,'584,728 512,728');arrow(g,'848,728 777,728');
 mk('rect',{x:427,y:765,width:81,height:135,fill:'#fff',stroke:'#aaa'},g);
 mk('rect',{x:692,y:780,width:83,height:120,fill:'#fff',stroke:'#aaa'},g);
 const cb=['#e01010','#f06000','#f0b000','#e0e000','#80f040','#20e0a0','#10c0f0','#1080f0','#1040e8'];
 cb.forEach((c,i)=>{mk('rect',{x:434,y:792+i*11,width:11,height:11,fill:c},g);mk('rect',{x:699,y:808+i*9.5,width:11,height:9.5,fill:c},g);});
 T('(Avg: 75%)',434,778,12,{},g);T('(Avg: 75%)',702,794,12,{},g);
 [['+2.4',799],['+1.7',825],['+1.3',850],['+0.4',870],['+0.034',894]].forEach(a=>T(a[0],455,a[1],11,{},g));
 [['+1.8',813],['+1.5',840],['+0.7',867],['+0.1',894]].forEach(a=>T(a[0],719,a[1],11,{},g));
 T('Post width = 50 μm',563,924,18,{'text-anchor':'middle'},g);
 T('Post width = 60 μm',830,924,18,{'text-anchor':'middle'},g);
})();

// (m)
(function(){
 const g=group('panel-m',I);
 [[1055,728,'#d8cc70'],[1277,728,'#d8cc70'],[975,845,'#8d8fd0'],[1287,845,'#8d8fd0'],[1162,890,'#8d8fd0']].forEach((p,i)=>{
  slab(p[0],p[1],150,20,6,p[2],'#888','#777',g,'m-plate-'+i);
  cube(p[0]+50,p[1]-45,60,10,38,g,'m-stamp-'+i,['#f4f4f4','#ddd','#c4c4c4']);
 });
 mk('rect',{x:1340,y:735,width:55,height:12,fill:'none',stroke:'#822','stroke-width':2.5},g);
 T('Stamp',1052,713,18,{},g);
 T('Donor',1102,775,18,{},g);
 T('Retrieve ink',1254,675,18,{'text-anchor':'middle'},g);
 T('(deflated)',1256,700,18,{'text-anchor':'middle'},g);
 T('Photoresist',1450,668,18,{'text-anchor':'middle'},g);
 T('anchor',1454,693,18,{'text-anchor':'middle'},g);
 T('Contact',1462,778,18,{'text-anchor':'middle'},g);
 T('receiver',1462,803,18,{'text-anchor':'middle'},g);
 T('Ink',1090,840,18,{},g);
 T('Receiver',1286,848,18,{transform:'rotate(-12 1286 848)'},g);
 T('Pressurize',1395,905,18,{'text-anchor':'middle'},g);
 T('reservoir',1395,927,18,{fill:'#e11','text-anchor':'middle','text-decoration':'underline'},g);
 T('Slowly retract',1092,914,18,{'text-anchor':'middle'},g);
 T('(inflated)',1092,938,18,{'text-anchor':'middle'},g);
 arrow(g,'1238,712 1272,712');arrow(g,'1412,778 1416,807');arrow(g,'1345,878 1320,894');arrow(g,'1165,892 1133,879');arrow(g,'1425,700 1409,730');
})();

// (n)
(function(){
 const g=group('panel-n',I);
 mk('ellipse',{cx:1110,cy:1122,rx:80,ry:60,fill:'#a7c8ec',stroke:'#7aa0d0'},g);
 mk('path',{d:'M978,1022 H1090 Q1110,1022 1110,1042 V1100',stroke:'#ccc','stroke-width':11,fill:'none'},g);
 mk('rect',{x:1100,y:1100,width:18,height:50,fill:'#8ab0dc'},g);
 T('External connection',978,1010,18,{transform:'rotate(-5 978 1010)'},g);
 T('Microchannel',963,1090,18,{},g);
 T('Reservoir',979,1158,18,{},g);
 T('Thin membrane',1057,1205,18,{},g);
 arrow(g,'1083,1098 1107,1120');arrow(g,'1075,1152 1112,1152');
})();

// (p)
(function(){
 const g=group('panel-p',I);
 [[12,1330,'#f08020'],[175,1330,'#f08020'],[342,1330,'#f08020'],[8,1460,'#1a3ae0'],[180,1460,'#1a3ae0'],[345,1460,'#1a3ae0']].forEach((p,i)=>{
  slab(p[0],p[1],125,18,8,p[2],'#555','#444',g,'p-plate-'+i);
  mk('rect',{x:p[0]+40,y:p[1]+3,width:50,height:10,fill:'#1a8a30'},g);
  cube(p[0]+42,p[1]-(i==2?60:42),55,12,38,g,'p-stamp-'+i,['#f2f2f2','#ddd','#c8c8c8']);
 });
 T('Stamp',54,1313,18,{},g);
 T('Ink',18,1338,18,{},g);
 T('Donor',60,1376,18,{},g);
 T('Initiate',160,1267,18,{'text-anchor':'middle'},g);
 T('contact',162,1292,18,{'text-anchor':'middle'},g);
 T('Retract',327,1267,18,{'text-anchor':'middle'},g);
 T('rapidly',327,1292,18,{'text-anchor':'middle'},g);
 T('Align',426,1400,18,{'text-anchor':'middle'},g);
 T('Contact;',325,1413,18,{'text-anchor':'middle'},g);
 T('Apply',300,1438,18,{'text-anchor':'middle'},g);
 T('shear',354,1438,18,{fill:'#e11','text-anchor':'middle','text-decoration':'underline'},g);
 T('Retract',156,1420,18,{'text-anchor':'middle'},g);
 T('slowly',156,1445,18,{'text-anchor':'middle'},g);
 T('Receiver',79,1510,18,{'text-anchor':'middle'},g);
 arrow(g,'143,1305 174,1305');arrow(g,'305,1305 337,1305');arrow(g,'455,1388 455,1432');arrow(g,'352,1455 323,1455');arrow(g,'180,1455 146,1455');
})();
</script>
</body></html>
